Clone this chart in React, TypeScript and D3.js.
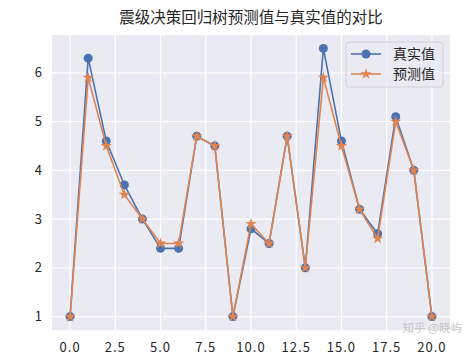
import React, { useEffect, useRef } from "react";
import * as d3 from "d3";

// 真实值 / 预测值 per sample index
const sampleIdx = d3.range(0, 21);
const trueVals = [1, 6.3, 4.6, 3.7, 3.0, 2.4, 2.4, 4.7, 4.5, 1, 2.8, 2.5, 4.7, 2.0, 6.5, 4.6, 3.2, 2.7, 5.1, 4.0, 1];
const predVals = [1, 5.9, 4.5, 3.5, 3.0, 2.5, 2.5, 4.7, 4.5, 1, 2.9, 2.5, 4.7, 2.0, 5.9, 4.5, 3.2, 2.6, 5.0, 4.0, 1];
const xTicks = [0, 2.5, 5, 7.5, 10, 12.5, 15, 17.5, 20];
const yTicks = [1, 2, 3, 4, 5, 6];
const seriesNames = ["真实值", "预测值"];

const W = 474,
  H = 355;
const margin = { top: 35, right: 24, bottom: 25, left: 52 };
const FONT = "'Noto Sans CJK SC', 'DejaVu Sans', sans-serif";

export default function App() {
  const ref = useRef<SVGGElement>(null);

  useEffect(() => {
    const g = d3.select(ref.current);
    g.selectAll("*").remove();
    const width = W - margin.left - margin.right;
    const height = H - margin.top - margin.bottom;

    const x = d3.scaleLinear().domain([-1, 21]).range([0, width]);
    const y = d3.scaleLinear().domain([0.725, 6.775]).range([height, 0]);

    // background
    g.append("rect").attr("width", width).attr("height", height).attr("fill", "#EAEAF2");

    // grid
    g.selectAll(".gx")
      .data(xTicks)
      .enter()
      .append("line")
      .attr("x1", (d) => x(d))
      .attr("x2", (d) => x(d))
      .attr("y1", 0)
      .attr("y2", height)
      .attr("stroke", "#fff")
      .attr("stroke-width", 1.2);
    g.selectAll(".gy")
      .data(yTicks)
      .enter()
      .append("line")
      .attr("y1", (d) => y(d))
      .attr("y2", (d) => y(d))
      .attr("x1", 0)
      .attr("x2", width)
      .attr("stroke", "#fff")
      .attr("stroke-width", 1.2);

    // tick labels
    g.selectAll(".tx")
      .data(xTicks)
      .enter()
      .append("text")
      .attr("x", (d) => x(d))
      .attr("y", height + 22)
      .attr("text-anchor", "middle")
      .attr("font-family", FONT)
      .attr("font-size", 13)
      .attr("letter-spacing", 1)
      .attr("fill", "#262626")
      .text((d) => d3.format(".1f")(d));
    g.selectAll(".ty")
      .data(yTicks)
      .enter()
      .append("text")
      .attr("x", -10)
      .attr("y", (d) => y(d))
      .attr("dy", "0.35em")
      .attr("text-anchor", "end")
      .attr("font-family", FONT)
      .attr("font-size", 13)
      .attr("fill", "#262626")
      .text((d) => d);

    const line = d3
      .line<number>()
      .x((_, i) => x(sampleIdx[i]))
      .y((d) => y(d));

    // 真实值
    g.append("path")
      .datum(trueVals)
      .attr("fill", "none")
      .attr("stroke", "#4C72B0")
      .attr("stroke-width", 1.6)
      .attr("d", line);
    g.selectAll(".dt")
      .data(trueVals)
      .enter()
      .append("circle")
      .attr("cx", (_, i) => x(sampleIdx[i]))
      .attr("cy", (d) => y(d))
      .attr("r", 4.5)
      .attr("fill", "#4C72B0");

    // 预测值
    g.append("path")
      .datum(predVals)
      .attr("fill", "none")
      .attr("stroke", "#DD8452")
      .attr("stroke-width", 1.6)
      .attr("d", line);
    const star = d3.symbol().type(d3.symbolStar).size(40);
    g.selectAll(".dp")
      .data(predVals)
      .enter()
      .append("path")
      .attr("d", star)
      .attr("transform", (d, i) => `translate(${x(sampleIdx[i])},${y(d)})`)
      .attr("fill", "#DD8452");

    // legend
    const lg = g.append("g").attr("transform", `translate(${width - 104},7)`);
    lg.append("rect")
      .attr("width", 97)
      .attr("height", 45)
      .attr("rx", 3)
      .attr("fill", "#EAEAF2")
      .attr("fill-opacity", 0.8)
      .attr("stroke", "#ccc")
      .attr("stroke-width", 0.8);
    const colors = ["#4C72B0", "#DD8452"];
    seriesNames.forEach((name, i) => {
      const cy = 12 + i * 20;
      lg.append("line")
        .attr("x1", 5)
        .attr("x2", 35)
        .attr("y1", cy)
        .attr("y2", cy)
        .attr("stroke", colors[i])
        .attr("stroke-width", 1.6);
      if (i === 0) {
        lg.append("circle").attr("cx", 20).attr("cy", cy).attr("r", 4.5).attr("fill", colors[i]);
      } else {
        lg.append("path").attr("d", star).attr("transform", `translate(20,${cy})`).attr("fill", colors[i]);
      }
      lg.append("text")
        .attr("x", 47)
        .attr("y", cy)
        .attr("dy", "0.35em")
        .attr("font-family", FONT)
        .attr("font-size", 14)
        .attr("fill", "#262626")
        .text(name);
    });

    // title
    g.append("text")
      .attr("x", width / 2)
      .attr("y", -12)
      .attr("text-anchor", "middle")
      .attr("font-family", FONT)
      .attr("font-size", 15.5)
      .attr("fill", "#262626")
      .text("震级决策回归树预测值与真实值的对比");

    // watermark, sits just above the tick labels
    g.append("text")
      .attr("x", width + 12)
      .attr("y", height + 2)
      .attr("text-anchor", "end")
      .attr("font-family", FONT)
      .attr("font-size", 11.5)
      .attr("fill", "#c4c4c4")
      .text("知乎 @晓屿");
  }, []);

  return (
    <svg width={W} height={H} style={{ position: "absolute", left: 0, top: 0, background: "#fff" }}>
      <g ref={ref} transform={`translate(${margin.left}, ${margin.top})`} />
    </svg>
  );
}
